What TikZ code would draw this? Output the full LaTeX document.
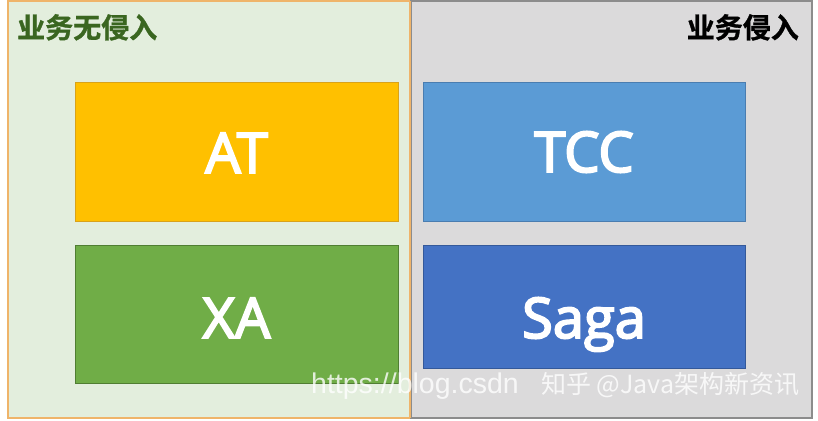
\documentclass[tikz,border=0pt]{standalone}
\usepackage{fontspec}
\setmainfont{Open Sans}
\newfontfamily\labfont[FakeBold=3.5]{Open Sans}
\newfontfamily\cjkb[FakeBold=1.2]{Noto Sans CJK SC Bold}
\newfontfamily\cjk{Noto Sans CJK SC}
\newfontfamily\wmfont{Liberation Sans}
\definecolor{leftbg}{HTML}{E3EEDD}
\definecolor{leftbd}{HTML}{EFB46A}
\definecolor{rightbg}{HTML}{DBDADB}
\definecolor{rightbd}{HTML}{8C8C8C}
\definecolor{atfill}{HTML}{FFC000}
\definecolor{atbd}{HTML}{D9A21A}
\definecolor{tccfill}{HTML}{5B9BD5}
\definecolor{tccbd}{HTML}{4A7DB0}
\definecolor{xafill}{HTML}{70AD47}
\definecolor{xabd}{HTML}{507E32}
\definecolor{sagafill}{HTML}{4472C4}
\definecolor{sagabd}{HTML}{34599A}
\definecolor{titlegreen}{HTML}{3A6620}
\tikzset{
  panel/.style={draw, line width=1.6pt, inner sep=0pt, outer sep=0pt},
  algbox/.style={draw, line width=1pt, inner sep=0pt, outer sep=0pt},
  algtext/.style={text=white, font=\labfont\fontsize{56}{60}\selectfont, inner sep=0pt, anchor=base},
  title/.style={font=\cjkb\fontsize{28}{30}\selectfont, inner sep=0pt, anchor=base west},
  wm/.style={text=white, opacity=0.8, inner sep=0pt, anchor=base west}
}
\begin{document}
\begin{tikzpicture}[x=1pt,y=-1pt]
\useasboundingbox (0,0) rectangle (818,420);
\fill[white] (0,0) rectangle (818,420);
% panels
\path[panel, draw=leftbd, fill=leftbg] (7.8,0.8) rectangle (410,418.2);
\path[panel, draw=rightbd, fill=rightbg] (410.8,0.8) rectangle (812,418.2);
\draw[leftbd, line width=1.6pt] (410,0.8) -- (410,418.2);
% titles
\node[title, text=titlegreen] (t1) at (17,38) {业务无侵入};
\node[title, text=black, anchor=base east] (t2) at (799,38) {业务侵入};
% boxes
\node[algbox, draw=atbd, fill=atfill, minimum width=323pt, minimum height=139pt] (at) at (236.5,151.5) {};
\node[algbox, draw=tccbd, fill=tccfill, minimum width=322pt, minimum height=139pt] (tcc) at (584,151.5) {};
\node[algbox, draw=xabd, fill=xafill, minimum width=323pt, minimum height=138pt] (xa) at (236.5,314) {};
\node[algbox, draw=sagabd, fill=sagafill, minimum width=322pt, minimum height=123pt] (saga) at (584,306.5) {};
% labels
\node[algtext] (lat) at (236.5,173) {AT};
\node[algtext] (ltcc) at (584,172) {TCC};
\node[algtext] (lxa) at (236.5,338) {XA};
\node[algtext] (lsaga) at (584,338) {Saga};
% watermarks
\node[wm, font=\wmfont\fontsize{28.5}{30}\selectfont] (w1) at (311,393) {https://blog.csdn};
\node[wm, font=\cjk\fontsize{25}{30}\selectfont] (w2) at (541,393) {知乎 @Java架构新资讯};
\end{tikzpicture}
\end{document}
